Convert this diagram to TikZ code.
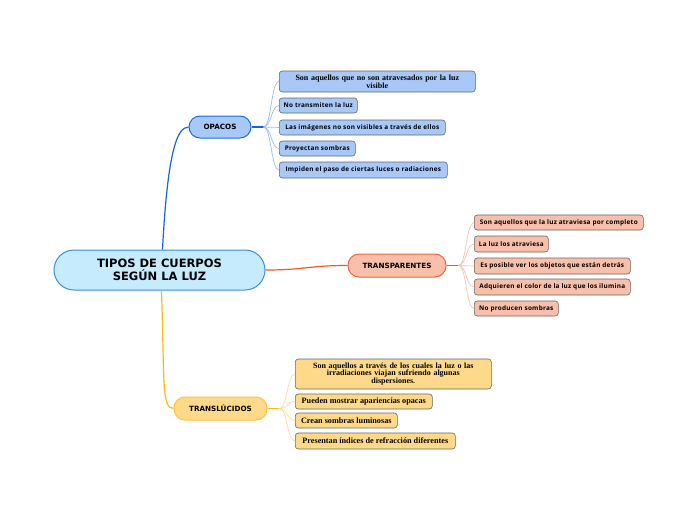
\documentclass[tikz,border=0pt]{standalone}
\usepackage{fontspec}
\setmainfont{Liberation Serif}
\newfontfamily\mainsans{DejaVu Sans}
\newfontfamily\childsans[LetterSpace=4]{Open Sans}
\newfontfamily\childserif{Liberation Serif}
\definecolor{cfill}{HTML}{C6EBFC}
\definecolor{cdraw}{HTML}{3A8EDB}
\definecolor{ofill}{HTML}{A8C8F8}
\definecolor{odraw}{HTML}{1C6BE0}
\definecolor{oline}{HTML}{1565D8}
\definecolor{oclin}{HTML}{9DBDF5}
\definecolor{tfill}{HTML}{F8BFAA}
\definecolor{tdraw}{HTML}{F0643C}
\definecolor{tline}{HTML}{F05A28}
\definecolor{tclin}{HTML}{F9C3B0}
\definecolor{lfill}{HTML}{FFD98A}
\definecolor{ldraw}{HTML}{FDC43A}
\definecolor{lline}{HTML}{FDB813}
\definecolor{lclin}{HTML}{FFDD99}
\definecolor{bgray}{HTML}{666666}
\tikzset{
  centralbox/.style={draw=cdraw, fill=cfill, line width=1pt, rounded corners=20pt,
    minimum width=211pt, minimum height=40pt, inner sep=0pt, align=center,
    font=\mainsans\bfseries\fontsize{11.5}{13}\selectfont},
  mainbox/.style={line width=1pt, rounded corners=11pt, minimum height=23pt, inner sep=0pt,
    font=\mainsans\bfseries\fontsize{7.2}{8}\selectfont},
  childbox/.style={draw=bgray, line width=0.6pt, rounded corners=3pt, inner xsep=0pt, inner ysep=0pt,
    anchor=west},
  sanschild/.style={childbox, font=\childsans\bfseries\fontsize{6.4}{7}\selectfont},
  serifchild/.style={childbox, font=\childserif\bfseries\fontsize{8.2}{8.6}\selectfont},
  serifmulti/.style={childbox, align=center, font=\childserif\bfseries\fontsize{8}{7.8}\selectfont},
}
\begin{document}
\begin{tikzpicture}[x=1pt,y=-1pt]
\useasboundingbox[fill=white] (0,0) rectangle (697,520);

% central
\node[centralbox] (C) at (159.5,270) {TIPOS DE CUERPOS\\SEGÚN LA LUZ};

% main branches
\node[mainbox, draw=odraw, fill=ofill, minimum width=62pt, minimum height=22pt] (OP) at (220,127) {OPACOS};
\node[mainbox, draw=tdraw, fill=tfill, minimum width=98pt] (TR) at (397,265.5) {TRANSPARENTES};
\node[mainbox, draw=ldraw, fill=lfill, minimum width=93pt] (TL) at (220.5,408.5) {TRANSLÚCIDOS};

% opacos children
\node[serifmulti, fill=ofill, text width=196pt, minimum height=21pt] (o1) at (279,81.5) {Son aquellos que no son atravesados por la luz\\visible};
\node[sanschild, fill=ofill, minimum width=78pt, minimum height=15pt] (o2) at (279,105.5) {No transmiten la luz};
\node[sanschild, fill=ofill, minimum width=166pt, minimum height=15pt] (o3) at (279,127.5) {Las imágenes no son visibles a través de ellos};
\node[sanschild, fill=ofill, minimum width=76pt, minimum height=15pt] (o4) at (279,148.5) {Proyectan sombras};
\node[sanschild, fill=ofill, minimum width=168pt, minimum height=16pt] (o5) at (279,170) {Impiden el paso de ciertas luces o radiaciones};

% transparentes children
\node[sanschild, fill=tfill, minimum width=169pt, minimum height=15pt] (t1) at (474,222.5) {Son aquellos que la luz atraviesa por completo};
\node[sanschild, fill=tfill, minimum width=74pt, minimum height=16pt] (t2) at (474,244) {La luz los atraviesa};
\node[sanschild, fill=tfill, minimum width=156pt, minimum height=16pt] (t3) at (474,266) {Es posible ver los objetos que están detrás};
\node[sanschild, fill=tfill, minimum width=156pt, minimum height=16pt] (t4) at (474,287) {Adquieren el color de la luz que los ilumina};
\node[sanschild, fill=tfill, minimum width=84pt, minimum height=15pt] (t5) at (474,308.5) {No producen sombras};

% translucidos children
\node[serifmulti, fill=lfill, text width=196pt, minimum height=30pt] (l1) at (295,374) {Son aquellos a través de los cuales la luz o las\\irradiaciones viajan sufriendo algunas\\dispersiones.};
\node[serifchild, fill=lfill, minimum width=137pt, minimum height=15pt] (l2) at (295,401.5) {Pueden mostrar apariencias opacas};
\node[serifchild, fill=lfill, minimum width=102pt, minimum height=15pt] (l3) at (295,420.5) {Crean sombras luminosas};
\node[serifchild, fill=lfill, minimum width=160pt, minimum height=16pt] (l4) at (295,441) {Presentan índices de refracción diferentes};

% main connectors
\draw[oline, line width=1.2pt] ([xshift=3pt]C.north) .. controls +(5,-95) and +(-12,0) .. (OP.west);
\draw[tline, line width=1.2pt] (C.east) .. controls +(40,0) and +(-40,0) .. (TR.west);
\draw[lline, line width=1.2pt] ([xshift=2pt]C.south) .. controls +(3,90) and +(-12,0) .. (TL.west);

% fan junctions
\coordinate (jo) at ([xshift=12pt]OP.east);
\coordinate (jt) at ([xshift=12pt]TR.east);
\coordinate (jl) at ([xshift=12pt]TL.east);
\draw[oline, line width=1.2pt] (OP.east) -- (jo);
\draw[tline, line width=1.2pt] (TR.east) -- (jt);
\draw[lline, line width=1.2pt] (TL.east) -- (jl);
\foreach \c in {o1,o2,o3,o4,o5}{
  \draw[oclin, line width=0.7pt] (jo) .. controls +(8,0) and +(-8,0) .. (\c.west);
}
\foreach \c in {t1,t2,t3,t4,t5}{
  \draw[tclin, line width=0.7pt] (jt) .. controls +(8,0) and +(-8,0) .. (\c.west);
}
\foreach \c in {l1,l2,l3,l4}{
  \draw[lclin, line width=0.7pt] (jl) .. controls +(8,0) and +(-8,0) .. (\c.west);
}
\end{tikzpicture}
\end{document}
